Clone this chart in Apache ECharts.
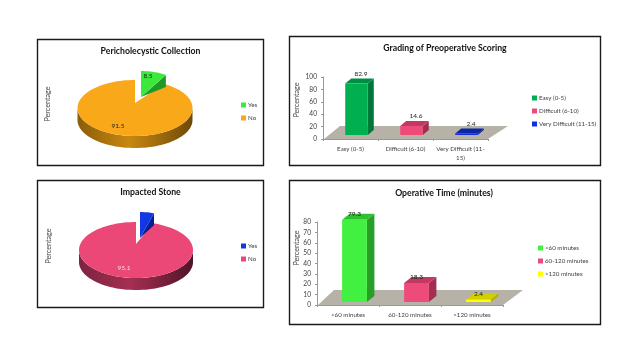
<!DOCTYPE html>
<html><head><meta charset="utf-8">
<style>html,body{margin:0;padding:0;background:#fff}#c{width:638px;height:359px}</style>
<script src="https://cdn.jsdelivr.net/npm/echarts@6/dist/echarts.min.js"></script>
</head><body><div id="c"></div>
<script>
const collectionNames = ['Yes', 'No'];
const collectionValues = [8.5, 91.5];
const stoneNames = ['Yes', 'No'];
const stoneValues = [4.9, 95.1];
const gradingCategories = ['Easy (0-5)', 'Difficult (6-10)', 'Very Difficult (11-15)'];
const gradingValues = [82.9, 14.6, 2.4];
const timeCategories = ['<60 minutes', '60-120 minutes', '>120 minutes'];
const timeValues = [79.3, 18.3, 2.4];

const FONT = 'Lato, "Open Sans", sans-serif';
const TXT = '#404040';

function shade(front, dark, mid) {
  return {type:'linear',x:0,y:0,x2:1,y2:0,colorStops:[
    {offset:0,color:mid},{offset:.45,color:front},{offset:1,color:dark}]};
}

function slice(name, values, idx, cfg) {
  const total = values.reduce((a,b)=>a+b,0);
  const before = values.slice(0,idx).reduce((a,b)=>a+b,0);
  const s = cfg.slices[idx];
  return {
    type:'custom', name, coordinateSystem:'none', silent:true, z:s.z,
    data:[[values[idx], before, total]],
    renderItem(params, api){
      const a0 = api.value(1)/api.value(2)*360, a1 = a0 + api.value(0)/api.value(2)*360;
      const ox = s.dx||0, oy = s.dy||0, R = s.scale||1;
      const P = d => { const t=d*Math.PI/180; return [cfg.cx+ox+cfg.rx*R*Math.sin(t), cfg.cy+oy-cfg.ry*Math.cos(t)]; };
      const apex = [cfg.cx+ox, cfg.cy+oy+(s.apexDy!==undefined?s.apexDy:cfg.apexDy)];
      const arc = (from,to)=>{const out=[];const n=Math.max(2,Math.ceil((to-from)/3));for(let i=0;i<=n;i++)out.push(P(from+(to-from)*i/n));return out;};
      const kids = [];
      const f0 = Math.max(a0,90), f1 = Math.min(a1,270);
      if (f1>f0) {
        const top = arc(f0,f1);
        const bot = top.slice().reverse().map(p=>[p[0],p[1]+cfg.depth]);
        kids.push({type:'polygon',shape:{points:top.concat(bot)},style:{fill:shade(s.side,s.sideDark,s.sideMid)}});
      }
      if (s.face) {
        const c = P(a1);
        kids.push({type:'polygon',shape:{points:[apex,c,[c[0],c[1]+cfg.depth]]},style:{fill:s.face}});
      }
      kids.push({type:'polygon',shape:{points:[apex].concat(arc(a0,a1))},style:{fill:s.color}});
      if (s.label) kids.push({type:'text',style:{text:String(api.value(0)),x:cfg.cx+s.label[0],y:cfg.cy+s.label[1],align:'center',verticalAlign:'middle',fill:s.labelColor||'#222',font:'6.5px '+FONT}});
      return {type:'group',children:kids};
    }
  };
}

function floorSeries(g, d){
  return {type:'custom',name:'floor',silent:true,xAxisIndex:g,yAxisIndex:g,z:1,data:[[0,0]],
    renderItem(params){
      const c = params.coordSys, b = c.y+c.height;
      return {type:'polygon',shape:{points:[[c.x+1,b],[c.x+c.width,b],[c.x+c.width+d.fx,b-d.fy],[c.x+d.fx-3,b-d.fy]]},style:{fill:'#B6B2A8'}};
    }};
}

function barSeries(g, i, value, cats, d, col){
  return {type:'custom',name:cats[i],silent:true,xAxisIndex:g,yAxisIndex:g,z:3,
    encode:{x:0,y:1},data:[[i,value]],
    renderItem(params, api){
      const base = api.coord([api.value(0),0]), topP = api.coord([api.value(0),api.value(1)]);
      const w = api.size([1,0])[0]*d.bw;
      const x0 = base[0]+d.shift-w/2, x1 = x0+w, y0 = base[1]-d.lift, y1 = y0-(base[1]-topP[1]);
      const dx = d.dx, dy = d.dy;
      return {type:'group',children:[
        {type:'polygon',shape:{points:[[x1,y1],[x1+dx,y1-dy],[x1+dx,y0-dy],[x1,y0]]},style:{fill:col.side}},
        {type:'polygon',shape:{points:[[x0,y1],[x0+dx,y1-dy],[x1+dx,y1-dy],[x1,y1]]},style:{fill:col.top}},
        {type:'rect',shape:{x:x0,y:y1,width:w,height:y0-y1},style:{fill:col.front}},
        {type:'text',style:{text:String(api.value(1)),x:x0+w/2+d.lx,y:y1-dy-d.ly,align:'center',verticalAlign:'middle',fill:'#222',font:'6.5px '+FONT}}
      ]};
    }};
}

const pie1 = {cx:135,cy:108,rx:57.5,ry:28,depth:12,apexDy:-5,slices:[
  {z:3,color:'#3CE83C',face:'#1F9A2A',dx:6,dy:-9,scale:.85,apexDy:-2,label:[13,-32]},
  {z:2,color:'#F8A818',side:'#C8880F',sideMid:'#8A5C0A',sideDark:'#6E4908',label:[-17,18]}]};
const pie2 = {cx:136,cy:250,rx:57,ry:28,depth:12,apexDy:-6,slices:[
  {z:3,color:'#1238E6',face:'#0A1F90',dx:4,dy:-10,scale:.81,apexDy:-2},
  {z:2,color:'#EC4877',side:'#A62F52',sideMid:'#7C2340',sideDark:'#4E1528',label:[-12,18],labelColor:'#F6D8E0'}]};

const d2 = {bw:.41,shift:6,lift:4,dx:6,dy:5,fx:20,fy:13,lx:4.5,ly:5};
const d4 = {bw:.40,shift:6.5,lift:3,dx:7.5,dy:6,fx:20,fy:15,lx:0,ly:0};
const colors2 = [{front:'#00B050',side:'#00783A',top:'#008F42'},{front:'#EE4B7B',side:'#A32E52',top:'#C23A63'},{front:'#1030E0',side:'#0A1F90',top:'#0B24A8'}];
const colors4 = [{front:'#42F042',side:'#28A028',top:'#2FC02F'},{front:'#EE4B7B',side:'#A32E52',top:'#C23A63'},{front:'#FFFF00',side:'#B0B000',top:'#D0D000'}];

function frame(x,y,w,h){return {type:'rect',silent:true,z:0,shape:{x:x+.5,y:y+.5,width:w,height:h},style:{fill:'#fff',stroke:'#1a1a1a',lineWidth:1.4}};}
function sideText(x,y){return {type:'text',silent:true,z:5,x,y,rotation:Math.PI/2,style:{text:'Percentage',align:'center',verticalAlign:'middle',fill:TXT,font:'7.2px '+FONT}};}
function ttl(text,left,top){return {text,left,top,padding:0,textAlign:'center',textStyle:{fontFamily:FONT,fontWeight:'bold',fontSize:8.7,color:'#111'}};}
function leg(names,cols,left,top){return {left,top,orient:'vertical',itemWidth:5,itemHeight:5,itemGap:7,icon:'rect',selectedMode:false,padding:0,
  textStyle:{fontFamily:FONT,fontSize:6.2,color:TXT,padding:[0,0,0,-3]},data:names.map((name,i)=>({name,itemStyle:{color:cols[i]}}))};}
function xAx(g,data){return {gridIndex:g,type:'category',data,axisLine:{lineStyle:{color:'#999'}},axisTick:{show:true,length:2,lineStyle:{color:'#999'}},
  axisLabel:{interval:0,fontFamily:FONT,fontSize:6.2,color:TXT,margin:6,lineHeight:9,width:49.5,overflow:'breakAll'}};}
function yAx(g,max,interval){return {gridIndex:g,type:'value',min:0,max,interval,splitLine:{show:false},
  axisLine:{show:true,lineStyle:{color:'#999'}},axisTick:{show:true,length:2,lineStyle:{color:'#999'}},
  axisLabel:{fontFamily:FONT,fontSize:6.6,color:TXT,margin:6}};}

const chart = echarts.init(document.getElementById('c'),null,{renderer:'canvas'});
chart.setOption({
  animation:false,backgroundColor:'#fff',
  title:[ttl('Pericholecystic Collection',150.5,47),ttl('Grading of Preoperative Scoring',445,44),ttl('Impacted Stone',150.5,188),ttl('Operative Time (minutes)',444,189)],
  legend:[
    leg(collectionNames,['#3CE83C','#F8A818'],241,102),
    leg(gradingCategories,colors2.map(c=>c.front),532,95),
    leg(stoneNames,['#1238E6','#EC4877'],241,243),
    leg(timeCategories,colors4.map(c=>c.front),538,245)
  ],
  grid:[{left:323,top:77,width:165,height:62},{left:317,top:222,width:186,height:83}],
  xAxis:[xAx(0,gradingCategories),xAx(1,timeCategories)],
  yAxis:[yAx(0,100,20),yAx(1,80,10)],
  graphic:{elements:[frame(37,39,226,126),frame(289,36,311,129),frame(37,180,226,127),frame(289,180,311,144),sideText(48,104),sideText(49,246),sideText(297,100),sideText(297,248)]},
  series:[
    slice('No',collectionValues,1,pie1),slice('Yes',collectionValues,0,pie1),
    slice('No',stoneValues,1,pie2),slice('Yes',stoneValues,0,pie2),
    floorSeries(0,d2),
    ...gradingValues.map((v,i)=>barSeries(0,i,v,gradingCategories,d2,colors2[i])),
    floorSeries(1,d4),
    ...timeValues.map((v,i)=>barSeries(1,i,v,timeCategories,d4,colors4[i]))
  ]
});
</script></body></html>
